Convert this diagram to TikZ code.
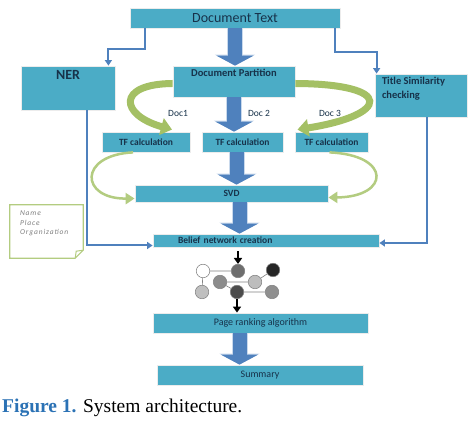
\documentclass[tikz,border=0pt]{standalone}
\usepackage{fontspec}
\setmainfont{Carlito}
\newfontfamily\capfont{Liberation Serif}
\newfontfamily\notefont{Carlito}[LetterSpace=12]
\usetikzlibrary{arrows.meta,shadows}

\definecolor{boxcyan}{HTML}{4BACC6}
\definecolor{boxtext}{HTML}{17324A}
\definecolor{arrblue}{HTML}{4F81BD}
\definecolor{arredge}{HTML}{C9D9EC}
\definecolor{olivegreen}{HTML}{A4C064}
\definecolor{palegreen}{HTML}{B3CC80}
\definecolor{figblue}{HTML}{2B72B5}

\tikzset{   box/.style={draw=white!85!gray,fill=boxcyan,line width=0.8pt,text=boxtext,inner sep=0pt,
                drop shadow={shadow xshift=1.2pt,shadow yshift=-1.2pt,opacity=0.3}},
            txtbold/.style={font=\bfseries\fontsize{9.5}{11}\selectfont},
            txtplain/.style={font=\fontsize{10}{12}\selectfont},
            doclbl/.style={font=\fontsize{9.5}{11}\selectfont,text=boxtext,inner sep=1pt},
            blockarr/.style={draw=arrblue,line width=14pt,-{Triangle[width=37pt,length=10pt]},
                preaction={draw=arredge,line width=16pt,-{Triangle[width=40pt,length=11pt]}}},
            conn/.style={draw=arrblue,line width=2pt,-{Triangle[width=7pt,length=5.5pt]}},
            thickgreen/.style={draw=olivegreen,line width=7pt,-{Triangle[width=17pt,length=11pt]}},
            thingreen/.style={draw=palegreen,line width=2.5pt,-{Triangle[width=11pt,length=9pt]}},
            blkarr/.style={draw=black,line width=2.2pt,-{Triangle[width=8pt,length=6pt]}},
            gnode/.style={circle,draw=gray,line width=0.5pt,minimum size=13.5pt,inner sep=0pt},
}

\begin{document}
\begin{tikzpicture}[x=1pt,y=-1pt]
    \useasboundingbox (0,0) rectangle (474,427);
    \fill[white] (0,0) rectangle (474,427);

    % boxes
    \node[box,minimum width=210pt,minimum height=20pt,font=\fontsize{14}{16}\selectfont] (doctext) at (235,18) {Document Text};
    \node[box,minimum width=94pt,minimum height=44pt,font=\bfseries\fontsize{14}{16}\selectfont] (ner) at (68,88)
        {\parbox[c][36pt][t]{80pt}{\centering NER}};
    \node[box,minimum width=122pt,minimum height=31pt,font=\bfseries\fontsize{10.5}{12}\selectfont] (docpart) at (234,81.5)
        {\parbox[c][25pt][t]{110pt}{\centering Document Partition}};
    \node[box,minimum width=92pt,minimum height=43pt,font=\bfseries\fontsize{10.5}{14}\selectfont] (title) at (421,95.5)
        {\parbox[c][37pt][t]{78pt}{\raggedright Title Similarity\\checking}};

    \node[box,txtbold,minimum width=88pt,minimum height=20pt] (tf1) at (146,142) {TF calculation};
    \node[box,txtbold,minimum width=81pt,minimum height=20pt] (tf2) at (242.5,142) {TF calculation};
    \node[box,txtbold,minimum width=73pt,minimum height=20pt] (tf3) at (331.5,142) {TF calculation};

    \node[doclbl] (doc1) at (178,113) {Doc1};   % document labels
    \node[doclbl] (doc2) at (259,113) {Doc 2};
    \node[doclbl] (doc3) at (330,113) {Doc 3};

    \node[box,txtbold,minimum width=193pt,minimum height=17pt] (svd) at (231.5,193.5) {SVD};
    \node[box,txtbold,minimum height=13pt,text width=176pt,inner xsep=25pt,align=left] (belief) at (266,240.5) {Belief network creation};
    \node[box,txtplain,minimum width=215pt,minimum height=20pt] (page) at (260.5,323) {Page ranking algorithm};
    \node[box,txtplain,minimum width=206pt,minimum height=20pt] (summary) at (260,375) {Summary};

    % note with folded corner
    \node[minimum width=73pt,minimum height=53pt,inner sep=0pt,text=gray,font=\notefont\itshape\fontsize{7.5}{9.5}\selectfont] (note) at (46.5,231.5)
        {\parbox[c][41pt][t]{53pt}{\raggedright Name\\Place\\Organization}};
    \draw[draw=palegreen,line width=1.2pt] (note.north west) -- (note.north east) -- ([yshift=8pt]note.south east)
        -- ([xshift=-8pt]note.south east) -- (note.south west) -- cycle;
    \draw[draw=palegreen,line width=1pt] ([yshift=8pt]note.south east) -- ([xshift=-7pt,yshift=7pt]note.south east) -- ([xshift=-8pt]note.south east);

    % small graph
    \node[gnode,fill=white] (n1) at (203,271) {};
    \node[gnode,fill=black!57] (n2) at (238,271) {};
    \node[gnode,fill=black!85] (n3) at (273,270) {};
    \node[gnode,fill=black!45] (n4) at (220,282) {};
    \node[gnode,fill=black!26] (n5) at (255,282) {};
    \node[gnode,fill=black!25] (n6) at (202,292) {};
    \node[gnode,fill=black!70] (n7) at (237,292) {};
    \node[gnode,fill=black!44] (n8) at (272,292) {};
    \draw[gray,line width=0.6pt] (n1) -- (n2)  (n1) -- (n6)  (n4) -- (n5)  (n4) -- (n7)  (n5) -- (n3)  (n7) -- (n8);

    % block arrows
    \draw[blockarr] (doctext.south) -- (doctext.south |- docpart.north);
    \draw[blockarr] (docpart.south) -- (docpart.south |- tf2.north);
    \draw[blockarr] ([xshift=-6pt]tf2.south) -- ([xshift=-6pt]tf2.south |- svd.north);
    \draw[blockarr] ([xshift=8pt]svd.south) -- ([xshift=8pt]svd.south |- belief.north);
    \draw[blockarr] ([xshift=-21pt]page.south) -- ([xshift=-21pt]page.south |- summary.north);

    % curved green arrows
    \draw[thickgreen] ([yshift=-2pt]docpart.west) .. controls (116,84) and (120,115) .. ([xshift=26pt,yshift=2pt]tf1.north);
    \draw[thickgreen] ([yshift=-2pt]docpart.east) .. controls (395,84) and (390,115) .. ([xshift=-34pt,yshift=2pt]tf3.north);
    \draw[thingreen] ([xshift=-13pt]tf1.south) .. controls (78,155) and (80,199) .. ([yshift=-5pt]svd.west);
    \draw[thingreen] ([xshift=-2pt]tf3.south) .. controls (392,155) and (390,197) .. ([yshift=-4pt]svd.east);

    % thin connectors
    \draw[conn] ([xshift=15pt]doctext.south west) -- ++(0,21) -| ([xshift=-7pt]ner.north east);
    \draw[conn] ([xshift=-5pt]doctext.south east) -- ++(0,24) -| ([xshift=2pt]title.north west);
    \draw[conn] ([xshift=19pt]ner.south) |- ([yshift=-5pt]belief.west);
    \draw[conn] ([xshift=6pt]title.south) |- ([yshift=-2.5pt]belief.east);

    \draw[blkarr,shorten <=4pt] (n2.north |- belief.south) -- (n2.north);
    \draw[blkarr] (n7.south) -- (n7.south |- page.north);

    % caption
    \node[anchor=base west,inner sep=0pt,font=\capfont\fontsize{19.5}{22}\selectfont] (caption) at (2,413)
        {\textcolor{figblue}{\bfseries Figure 1.} System architecture.};
\end{tikzpicture}
\end{document}
